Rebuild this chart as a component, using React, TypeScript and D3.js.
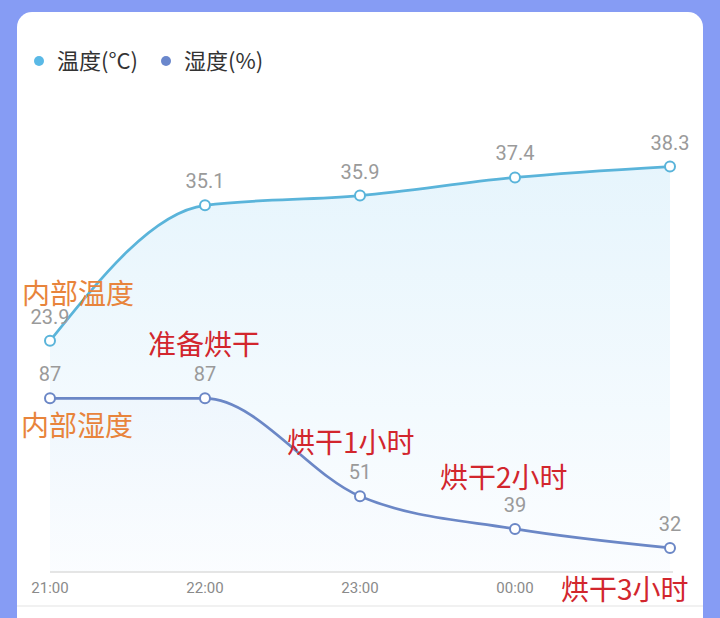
import React from "react";
import * as d3 from "d3";

const categories = ["21:00", "22:00", "23:00", "00:00", "01:00"];
const xTickLabels = ["21:00", "22:00", "23:00", "00:00", ""];
const temperature = [23.9, 35.1, 35.9, 37.4, 38.3];
const humidity = [87, 87, 51, 39, 32];
const seriesNames = ["温度(°C)", "湿度(%)"];
const annotationTexts = ["内部温度", "准备烘干", "内部湿度", "烘干1小时", "烘干2小时", "烘干3小时"];

const W = 720;
const H = 618;
const TEMP_COLOR = "#5ab4da";
const HUM_COLOR = "#6b87c6";
const ORANGE = "#e8843c";
const RED = "#d2262d";
const CJK = "'Noto Sans CJK SC', 'Noto Sans', sans-serif";
const NUM = "Roboto, 'Noto Sans', sans-serif";

export default function App() {
  const baseY = 572;
  const x = d3.scalePoint<string>().domain(categories).range([50, 670]);
  const yT = d3.scaleLinear().domain([0, 40]).range([630, 146]);
  const yH = d3.scaleLinear().domain([0, 100]).range([635, 363]);

  const tData = categories.map((c, i) => ({ c, v: temperature[i] }));
  const hData = categories.map((c, i) => ({ c, v: humidity[i] }));

  const tLine = d3.line<any>().x((d) => x(d.c)!).y((d) => yT(d.v)).curve(d3.curveMonotoneX);
  const hLine = d3.line<any>().x((d) => x(d.c)!).y((d) => yH(d.v)).curve(d3.curveMonotoneX);
  const tArea = d3.area<any>().x((d) => x(d.c)!).y0(baseY).y1((d) => yT(d.v)).curve(d3.curveMonotoneX);
  const hArea = d3.area<any>().x((d) => x(d.c)!).y0(baseY).y1((d) => yH(d.v)).curve(d3.curveMonotoneX);

  const annPos = [
    { x: 22, y: 304, color: ORANGE },
    { x: 148, y: 355, color: RED },
    { x: 21, y: 436, color: ORANGE },
    { x: 287, y: 453, color: RED },
    { x: 440, y: 488, color: RED },
    { x: 561, y: 600, color: RED },
  ];

  return (
    <svg
      width={W}
      height={H}
      style={{ position: "fixed", left: 0, top: 0, display: "block" }}
    >
      <defs>
        <linearGradient id="gT" x1="0" y1="0" x2="0" y2="1">
          <stop offset="0%" stopColor="#e2f3fc" />
          <stop offset="100%" stopColor="#fbfdff" />
        </linearGradient>
        <linearGradient id="gH" x1="0" y1="0" x2="0" y2="1">
          <stop offset="0%" stopColor="#e5e9f9" />
          <stop offset="100%" stopColor="#fafbfe" />
        </linearGradient>
      </defs>
      <rect x={0} y={0} width={W} height={H} fill="#869cf4" />
      <rect x={17} y={12} width={686} height={H + 40} rx={15} fill="#ffffff" />

      {/* legend */}
      <circle cx={39} cy={61} r={5} fill="#5ab9e6" />
      <text x={57} y={69} fontSize={22} fill="#333" fontFamily={CJK}>
        {seriesNames[0]}
      </text>
      <circle cx={166} cy={61} r={5} fill="#6a87cc" />
      <text x={184} y={69} fontSize={22} fill="#333" fontFamily={CJK}>
        {seriesNames[1]}
      </text>

      {/* areas */}
      <path d={hArea(hData)!} fill="url(#gH)" />
      <path d={tArea(tData)!} fill="url(#gT)" opacity={0.85} />

      {/* axis */}
      <line x1={50} x2={673} y1={baseY} y2={baseY} stroke="#dcdcdc" strokeWidth={1.5} />
      {categories.map((c, i) => (
        <text
          key={c}
          x={x(c)!}
          y={593}
          textAnchor="middle"
          fontSize={15}
          fill="#8a8a8a"
          fontFamily={NUM}
        >
          {xTickLabels[i]}
        </text>
      ))}
      <line x1={17} x2={703} y1={606} y2={606} stroke="#e4e4e4" strokeWidth={1.2} />

      {/* lines */}
      <path d={tLine(tData)!} fill="none" stroke={TEMP_COLOR} strokeWidth={2.7} />
      <path d={hLine(hData)!} fill="none" stroke={HUM_COLOR} strokeWidth={2.7} />

      {tData.map((d) => (
        <g key={"t" + d.c}>
          <circle cx={x(d.c)!} cy={yT(d.v)} r={5} fill="#fff" stroke={TEMP_COLOR} strokeWidth={2} />
          <text
            x={x(d.c)!}
            y={yT(d.v) - 17}
            textAnchor="middle"
            fontSize={20}
            fill="#9a9a9a"
            fontFamily={NUM}
          >
            {d.v.toFixed(1)}
          </text>
        </g>
      ))}
      {hData.map((d) => (
        <g key={"h" + d.c}>
          <circle cx={x(d.c)!} cy={yH(d.v)} r={5} fill="#fff" stroke={HUM_COLOR} strokeWidth={2} />
          <text
            x={x(d.c)!}
            y={yH(d.v) - 17}
            textAnchor="middle"
            fontSize={20}
            fill="#9a9a9a"
            fontFamily={NUM}
          >
            {d.v}
          </text>
        </g>
      ))}

      {/* annotations */}
      {annotationTexts.map((t, i) => (
        <text
          key={t}
          x={annPos[i].x}
          y={annPos[i].y}
          fontSize={28}
          fill={annPos[i].color}
          fontFamily={CJK}
        >
          {t}
        </text>
      ))}
    </svg>
  );
}
